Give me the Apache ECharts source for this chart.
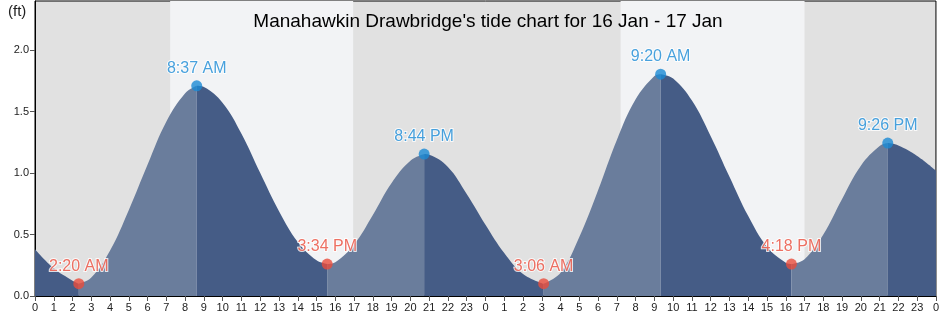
<!DOCTYPE html>
<html>
<head>
<meta charset="utf-8">
<script src="https://cdn.jsdelivr.net/npm/echarts@6/dist/echarts.min.js"></script>
<style>
  html, body { margin: 0; padding: 0; background: #fff; }
  #chart { width: 942px; height: 318px; }
</style>
</head>
<body>
<div id="chart"></div>
<script>
// tide heights (ft), hours since 16 Jan 00:00
const hours = [0, 1, 2, 2.333, 3, 4, 5, 6, 7, 8, 8.617, 9, 10, 11, 12, 13, 14, 15, 15.567,
  16, 17, 18, 19, 20, 20.733, 21, 22, 23, 24, 25, 26, 27.1, 28, 29, 30, 31, 32, 33, 33.333,
  34, 35, 36, 37, 38, 39, 40, 40.3, 41, 42, 43, 44, 45, 45.433, 46, 47, 48];
const heights = [0.38, 0.225, 0.125, 0.1, 0.15, 0.37, 0.70, 1.07, 1.42, 1.65, 1.71, 1.70, 1.57, 1.32, 1.00, 0.69, 0.44, 0.29, 0.26,
  0.275, 0.42, 0.66, 0.92, 1.10, 1.155, 1.15, 1.05, 0.83, 0.58, 0.35, 0.18, 0.1, 0.19, 0.48, 0.86, 1.27, 1.60, 1.79, 1.805,
  1.77, 1.59, 1.30, 0.97, 0.65, 0.40, 0.27, 0.26, 0.30, 0.50, 0.79, 1.06, 1.22, 1.244, 1.225, 1.14, 1.02];

// high / low tides
const extremaHours = [2.333, 8.617, 15.567, 20.733, 27.1, 33.333, 40.3, 45.433];
const extremaValues = [0.1, 1.71, 0.26, 1.155, 0.1, 1.805, 0.26, 1.244];
const extremaLabels = ['2:20 AM', '8:37 AM', '3:34 PM', '8:44 PM', '3:06 AM', '9:20 AM', '4:18 PM', '9:26 PM'];
const extremaHigh = [false, true, false, true, false, true, false, true];

// daylight spans (hours)
const dayStart = [7.2, 31.2];
const dayEnd = [16.95, 41.0];

const yTicks = [0, 0.5, 1.0, 1.5, 2.0];

const chart = echarts.init(document.getElementById('chart'));

const FONT = 'Liberation Sans, Arial, sans-serif';
const DARK = '#455c86';
const LIGHT = '#6a7d9c';
const BLUE = '#1a8ad4';
const RED = '#e84c3c';

// split curve into rising / falling pieces at each extremum
const cuts = [0];
extremaHours.forEach(h => cuts.push(hours.indexOf(h)));
cuts.push(hours.length - 1);

const areaSeries = [];
for (let i = 0; i < cuts.length - 1; i++) {
  const pts = [];
  for (let k = cuts[i]; k <= cuts[i + 1]; k++) pts.push([hours[k], heights[k]]);
  const rising = pts[pts.length - 1][1] > pts[0][1];
  areaSeries.push({
    type: 'line',
    data: pts,
    smooth: 0.4,
    symbol: 'none',
    silent: true,
    z: 2,
    lineStyle: { width: 0 },
    areaStyle: { color: rising ? LIGHT : DARK, opacity: 1 }
  });
}

const pointSeries = (high) => ({
  type: 'scatter',
  z: 5,
  symbolSize: 11,
  itemStyle: { color: high ? BLUE : RED },
  label: {
    show: true,
    position: 'top',
    distance: 4,
    fontSize: 16,
    fontFamily: FONT,
    color: high ? BLUE : RED,
    textBorderColor: '#fff',
    textBorderWidth: 2,
    formatter: p => p.data[2]
  },
  data: extremaHours
    .map((h, i) => [h, extremaValues[i], extremaLabels[i], extremaHigh[i]])
    .filter(d => d[3] === high)
});

chart.setOption({
  animation: false,
  textStyle: { fontFamily: FONT },
  title: {
    text: "Manahawkin Drawbridge's tide chart for 16 Jan - 17 Jan",
    left: 483,
    top: 7,
    textAlign: 'center',
    textStyle: { fontSize: 19, fontWeight: 'normal', color: '#000', fontFamily: FONT }
  },
  graphic: [{
    type: 'text',
    left: 8,
    top: 4,
    style: { text: '(ft)', fontSize: 15, fill: '#222', fontFamily: FONT }
  }],
  grid: {
    left: 35, right: 4, top: 1, bottom: 22,
    show: true,
    backgroundColor: '#e1e1e1',
    borderColor: '#000',
    borderWidth: 1
  },
  xAxis: {
    type: 'value',
    min: 0, max: 48, interval: 1,
    splitLine: { show: false },
    axisLine: { lineStyle: { color: '#000' } },
    axisTick: { length: 5, lineStyle: { color: '#555' } },
    axisLabel: { fontSize: 11, color: '#222', margin: 6, formatter: v => String(v % 24) }
  },
  yAxis: {
    type: 'value',
    min: 0, max: 2.4, interval: 0.5,
    splitLine: { show: false },
    axisLine: { show: true, lineStyle: { color: '#000' } },
    axisTick: { length: 5, lineStyle: { color: '#555' } },
    axisLabel: {
      fontSize: 11, color: '#222', margin: 6, showMaxLabel: false,
      formatter: v => yTicks.includes(v) ? v.toFixed(1) : ''
    }
  },
  series: [
    {
      type: 'line',
      data: [],
      z: 1,
      markArea: {
        silent: true,
        itemStyle: { color: '#f2f3f5' },
        data: dayStart.map((s, i) => [{ xAxis: s }, { xAxis: dayEnd[i] }])
      }
    },
    ...areaSeries,
    pointSeries(true),
    pointSeries(false)
  ]
});
</script>
</body>
</html>
